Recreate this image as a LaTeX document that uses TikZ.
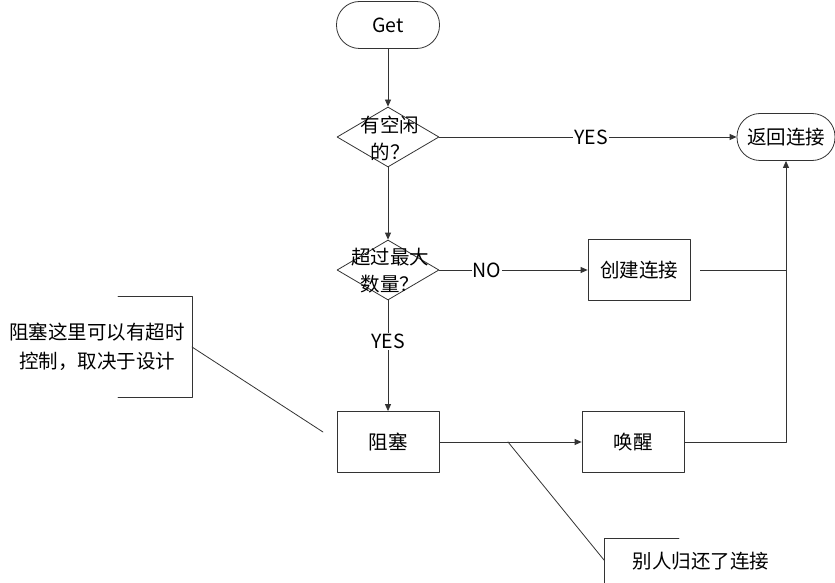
\documentclass[tikz,border=0pt]{standalone}
\usepackage{fontspec}
\setmainfont{Noto Sans CJK SC}
\usetikzlibrary{shapes.geometric,arrows.meta,positioning}
\begin{document}
\begin{tikzpicture}[x=1pt, y=-1pt, font=\fontsize{19.5}{27}\selectfont, line join=round, line cap=round, >={Triangle[length=7pt,width=6pt]},
	every path/.style={draw=black!80, line width=0.8pt},
	term/.style={draw, rounded corners=23pt, minimum width=103pt, minimum height=47pt, inner sep=2pt},
	choice/.style={draw, diamond, minimum width=102pt, minimum height=60pt, inner sep=0pt},
	proc/.style={draw, minimum width=102pt, minimum height=61pt},
	word/.style={fill=white, inner sep=1pt}]
	\useasboundingbox[draw=none] (0,0) rectangle (835,583);
	\node[term] (get) at (388,25) {Get};
	\node[choice] (idle) at (388,137) {};
	\node[align=center] (idletxt) at (390,138) {有空闲\\的？};
	\node[choice] (max) at (388,270) {};
	\node[align=center] (maxtxt) at (390,271) {超过最大\\数量？};
	\node[term, minimum width=98pt] (ret) at (786,137) {返回连接};
	\node[proc] (create) at (639,270) {创建连接};
	\node[proc] (block) at (388,442) {阻塞};
	\node[proc] (wake) at (633,442) {唤醒};
	\coordinate (join) at (786,270);
	
	\draw[->] (get)--(idle);
	\draw[->] (idle)--(max);
	\draw[->] (idle)--(ret) node[word, pos=0.51]{YES};
	\draw[->] (max)--(create) node[word, pos=0.32]{NO};
	\draw[->] (max)--(block) node[word, pos=0.37]{YES};
	\draw[->] (block)--(wake);
	\draw[->] (wake)-|(ret);
	\draw[shorten <=10pt] (create.east)--(join);
	
	\draw (118,296)--(192,296)--(192,397)--(118,397);
	\node[align=center, font=\fontsize{19.5}{29}\selectfont] (waitnote) at (97,347) {阻塞这里可以有超时\\控制，取决于设计};
	\coordinate (waitend) at (323,432);
	\draw (192,347)--(waitend);
	\draw (679,538)--(604,538)--(604,583);
	\node (backnote) at (701,561) {别人归还了连接};
	\coordinate (backfrom) at (508,442);
	\draw (backfrom)--(604,560);
\end{tikzpicture}
\end{document}
